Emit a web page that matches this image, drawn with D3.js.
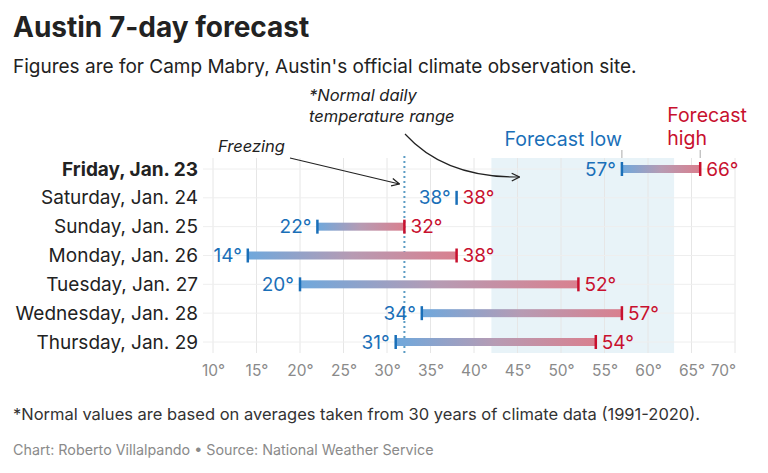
<!DOCTYPE html>
<html>
<head>
<meta charset="utf-8">
<script src="https://cdn.jsdelivr.net/npm/d3@7"></script>
<style>
  body { margin: 0; background: #fff; }
  svg { font-family: Inter, "Noto Sans", sans-serif; }
</style>
</head>
<body>
<div id="chart-area"></div>
<script>
const days = ["Friday, Jan. 23", "Saturday, Jan. 24", "Sunday, Jan. 25", "Monday, Jan. 26",
    "Tuesday, Jan. 27", "Wednesday, Jan. 28", "Thursday, Jan. 29"];
const lows = [57, 38, 22, 14, 20, 34, 31];
const highs = [66, 38, 32, 38, 52, 57, 54];
const ticks = [10, 15, 20, 25, 30, 35, 40, 45, 50, 55, 60, 65, 70];
const freezing = 32;
const normalRange = [42, 63];

const width = 768;
const height = 473;
const margin = { left: 213, right: 33, top: 158, bottom: 120 };

const blue = "#1a6fb8";
const red = "#c8102e";

const svg = d3.select('#chart-area')
    .append('svg')
    .attr("width", width)
    .attr("height", height);

const x = d3.scaleLinear()
    .domain([10, 70])
    .range([margin.left, width - margin.right]);

const y = d3.scalePoint()
    .domain(days)
    .range([169, 342]);

const defs = svg.append('defs');
const grad = defs.append('linearGradient')
    .attr('id', 'barGrad')
    .attr('x1', '0%').attr('x2', '100%');
grad.append('stop').attr('offset', '0%').attr('stop-color', '#6fa8dc');
grad.append('stop').attr('offset', '50%').attr('stop-color', '#b79bb3');
grad.append('stop').attr('offset', '100%').attr('stop-color', '#d9808f');

// titles
svg.append('text')
    .attr('x', 13).attr('y', 37)
    .attr('font-size', '28px').attr('font-weight', 700)
    .attr('fill', '#222')
    .text("Austin 7-day forecast");

svg.append('text')
    .attr('x', 13).attr('y', 73)
    .attr('font-size', '19px')
    .attr('fill', '#222')
    .text("Figures are for Camp Mabry, Austin's official climate observation site.");

const plotTop = margin.top;
const plotBottom = height - margin.bottom;

// normal range band
svg.append('rect')
    .attr('x', x(normalRange[0]))
    .attr('y', plotTop)
    .attr('width', x(normalRange[1]) - x(normalRange[0]))
    .attr('height', plotBottom - plotTop)
    .attr('fill', '#e8f3f8');

// grid
svg.append('g')
    .selectAll('line')
    .data(ticks)
    .enter()
    .append('line')
    .attr('x1', d => x(d)).attr('x2', d => x(d))
    .attr('y1', plotTop).attr('y2', plotBottom)
    .attr('stroke', '#e6e6e6');

svg.append('g')
    .selectAll('line')
    .data(days)
    .enter()
    .append('line')
    .attr('x1', x(10) - 10).attr('x2', x(70))
    .attr('y1', d => y(d)).attr('y2', d => y(d))
    .attr('stroke', '#eeeeee');

// freezing line
svg.append('line')
    .attr('x1', x(freezing)).attr('x2', x(freezing))
    .attr('y1', plotTop - 2).attr('y2', plotBottom)
    .attr('stroke', '#5b9cc4')
    .attr('stroke-width', 2)
    .attr('stroke-dasharray', '2,3');

// axis labels
const xAxis = d3.axisBottom(x)
    .tickValues(ticks)
    .tickSize(0)
    .tickFormat(d => d + "°");
const axisG = svg.append('g')
    .attr('transform', `translate(0, ${plotBottom + 6})`)
    .call(xAxis);
axisG.select('.domain').remove();
axisG.selectAll('.tick text')
    .attr('font-family', 'Inter, "Noto Sans", sans-serif')
    .attr('font-size', '15.5px')
    .attr('fill', '#8a8a8a')
    .attr('dy', '0.9em')
    .attr('dx', d => d === 70 ? -12 : 0);

// day labels
svg.append('g')
    .selectAll('text')
    .data(days)
    .enter()
    .append('text')
    .attr('x', 198)
    .attr('y', d => y(d))
    .attr('dy', '0.35em')
    .attr('text-anchor', 'end')
    .attr('font-size', '19px')
    .attr('font-weight', (d, i) => i === 0 ? 700 : 400)
    .attr('fill', '#222')
    .text(d => d);

const rows = days.map((d, i) => ({ day: d, low: lows[i], high: highs[i] }));

// bars
svg.append('g')
    .selectAll('rect')
    .data(rows.filter(d => d.high > d.low))
    .enter()
    .append('rect')
    .attr('x', d => x(d.low))
    .attr('y', d => y(d.day) - 4)
    .attr('width', d => x(d.high) - x(d.low))
    .attr('height', 8)
    .attr('fill', 'url(#barGrad)');

// caps
svg.append('g')
    .selectAll('line')
    .data(rows)
    .enter()
    .append('line')
    .attr('x1', d => x(d.low)).attr('x2', d => x(d.low))
    .attr('y1', d => y(d.day) - 7).attr('y2', d => y(d.day) + 7)
    .attr('stroke', blue).attr('stroke-width', 2.5);

svg.append('g')
    .selectAll('line')
    .data(rows.filter(d => d.high > d.low))
    .enter()
    .append('line')
    .attr('x1', d => x(d.high)).attr('x2', d => x(d.high))
    .attr('y1', d => y(d.day) - 7).attr('y2', d => y(d.day) + 7)
    .attr('stroke', red).attr('stroke-width', 2.5);

// value labels
svg.append('g')
    .selectAll('text')
    .data(rows)
    .enter()
    .append('text')
    .attr('x', d => x(d.low) - 6)
    .attr('y', d => y(d.day))
    .attr('dy', '0.35em')
    .attr('text-anchor', 'end')
    .attr('font-size', '19px')
    .attr('fill', blue)
    .text(d => d.low + "°");

svg.append('g')
    .selectAll('text')
    .data(rows)
    .enter()
    .append('text')
    .attr('x', d => x(d.high) + 6)
    .attr('y', d => y(d.day))
    .attr('dy', '0.35em')
    .attr('font-size', '19px')
    .attr('fill', red)
    .text(d => d.high + "°");

// legend annotations
svg.append('text')
    .attr('x', x(lows[0])).attr('y', 146)
    .attr('text-anchor', 'end')
    .attr('font-size', '19.5px')
    .attr('fill', blue)
    .text("Forecast low");
svg.append('line')
    .attr('x1', x(lows[0])).attr('x2', x(lows[0]))
    .attr('y1', 150).attr('y2', 158)
    .attr('stroke', '#aaa');

const highNote = svg.append('text')
    .attr('x', x(highs[0]) - 33).attr('y', 122)
    .attr('font-size', '19.5px')
    .attr('fill', red);
highNote.append('tspan').text("Forecast");
highNote.append('tspan').attr('x', x(highs[0]) - 33).attr('dy', '1.2em').text("high");
svg.append('line')
    .attr('x1', x(highs[0])).attr('x2', x(highs[0]))
    .attr('y1', 150).attr('y2', 158)
    .attr('stroke', '#aaa');

// arrows
defs.append('marker')
    .attr('id', 'arrow')
    .attr('viewBox', '0 0 10 10')
    .attr('refX', 9).attr('refY', 5)
    .attr('markerWidth', 8).attr('markerHeight', 8)
    .attr('orient', 'auto')
    .append('path')
    .attr('d', 'M1,1 L9,5 L1,9')
    .attr('fill', 'none')
    .attr('stroke', '#222')
    .attr('stroke-width', 1.3);

svg.append('text')
    .attr('x', 218).attr('y', 152)
    .attr('font-size', '16.5px')
    .attr('font-style', 'italic')
    .attr('fill', '#222')
    .text("Freezing");
svg.append('path')
    .attr('d', `M290,158 L${x(freezing) - 5},184`)
    .attr('fill', 'none')
    .attr('stroke', '#222')
    .attr('stroke-width', 1.2)
    .attr('marker-end', 'url(#arrow)');

const normNote = svg.append('text')
    .attr('x', 309).attr('y', 101)
    .attr('font-size', '16.5px')
    .attr('font-style', 'italic')
    .attr('fill', '#222');
normNote.append('tspan').text("*Normal daily");
normNote.append('tspan').attr('x', 309).attr('dy', '1.25em').text("temperature range");
svg.append('path')
    .attr('d', `M405,134 Q445,178 ${x(normalRange[0]) + 28},177`)
    .attr('fill', 'none')
    .attr('stroke', '#222')
    .attr('stroke-width', 1.2)
    .attr('marker-end', 'url(#arrow)');

// footer
svg.append('text')
    .attr('x', 13).attr('y', 420)
    .attr('font-size', '16.5px')
    .attr('fill', '#333')
    .text("*Normal values are based on averages taken from 30 years of climate data (1991-2020).");

svg.append('text')
    .attr('x', 13).attr('y', 455)
    .attr('font-size', '14.3px')
    .attr('fill', '#8a8a8a')
    .text("Chart: Roberto Villalpando • Source: National Weather Service");
</script>
</body>
</html>
